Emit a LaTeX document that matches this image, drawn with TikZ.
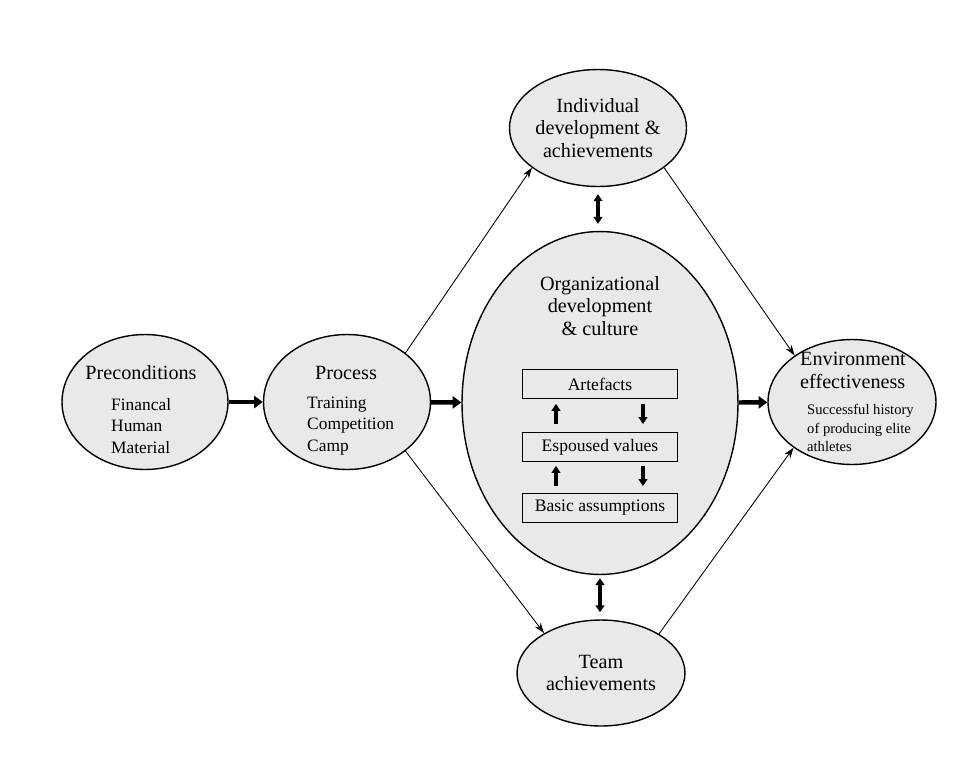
\documentclass[tikz,border=0pt]{standalone}
\usepackage{fontspec}
\setmainfont{Liberation Serif}
\usetikzlibrary{arrows.meta, positioning, shapes.geometric}

\begin{document}
\begin{tikzpicture}[
    x=0.02cm, y=-0.02cm,
    every node/.style={font=\fontsize{11.5}{13}\selectfont},
    ell/.style={draw, thick, ellipse, fill=gray!17, inner sep=0pt, align=center},
    box/.style={draw, fill=gray!17, minimum width=3.1cm, minimum height=0.58cm, font=\fontsize{10}{12}\selectfont},
    items/.style={align=left, font=\fontsize{9.9}{12}\selectfont},
    note/.style={align=left, font=\fontsize{8.3}{10.5}\selectfont},
    big/.style={-{Triangle[length=5pt, width=7pt]}, line width=2.5pt},
    link/.style={-{Stealth[length=6pt, width=4pt]}, line width=0.5pt},
    dbl/.style={{Triangle[length=4pt, width=5pt]}-{Triangle[length=4pt, width=5pt]}, line width=2pt},
    updown/.style={-{Triangle[length=4pt, width=5pt]}, line width=1.8pt}
]
\useasboundingbox (0,0) rectangle (958,762);

% Ellipses
\node[ell, minimum width=3.32cm, minimum height=2.7cm] (pre) at (145,402) {};
\node[ell, minimum width=3.34cm, minimum height=2.7cm] (proc) at (347,402) {};
\node[ell, minimum width=5.52cm, minimum height=6.86cm] (org) at (600,403) {};
\node[ell, minimum width=3.4cm, minimum height=2.34cm] (ind) at (598,128) {Individual\\development \&\\achievements};
\node[ell, minimum width=3.36cm, minimum height=2.12cm] (team) at (601,673) {Team\\achievements};
\node[ell, minimum width=3.36cm, minimum height=2.5cm] (env) at (852,402) {};

% Textes
\node (preT) at (141,373) {Preconditions};
\node[items, anchor=west] (preL) at (105,426) {Financal\\Human\\Material};
\node (procT) at (346,373) {Process};
\node[items, anchor=west] (procL) at (301,426) {Training\\Competition\\Camp};
\node[align=center] (orgT) at (600,306) {Organizational\\development\\\& culture};
\node[align=left, anchor=west] (envT) at (794,370) {Environment\\effectiveness};
\node[note, anchor=west] (envL) at (801,428) {Successful history\\of producing elite\\athletes};

% Niveaux de culture
\node[box] (art) at (600,384) {Artefacts};
\node[box] (esp) at (600,447) {Espoused values};
\node[box] (bas) at (600,508) {Basic assumptions};

\draw[updown, shorten <=0.16cm, shorten >=0.1cm] ([xshift=-0.88cm]esp.north) -- ([xshift=-0.88cm]art.south);
\draw[updown, shorten <=0.1cm, shorten >=0.16cm] ([xshift=0.86cm]art.south) -- ([xshift=0.86cm]esp.north);
\draw[updown, shorten <=0.14cm, shorten >=0.08cm] ([xshift=-0.88cm]bas.north) -- ([xshift=-0.88cm]esp.south);
\draw[updown, shorten <=0.08cm, shorten >=0.14cm] ([xshift=0.86cm]esp.south) -- ([xshift=0.86cm]bas.north);

% Fleches principales
\draw[big] (pre) -- (proc);
\draw[big] (proc) -- (org);
\draw[big] (org) -- (env);

% Liens fins
\draw[link] (proc.40) -- (ind.211);
\draw[link] (proc.320) -- (team.145);
\draw[link] (ind.329) -- (env.141);
\draw[link] (team.34) -- (env.218);

% Interactions
\draw[dbl, shorten <=0.14cm, shorten >=0.14cm] (ind.south) -- (ind.south |- org.north);
\draw[dbl, shorten <=0.06cm, shorten >=0.14cm] (org.south) -- (org.south |- team.north);

\end{tikzpicture}
\end{document}
